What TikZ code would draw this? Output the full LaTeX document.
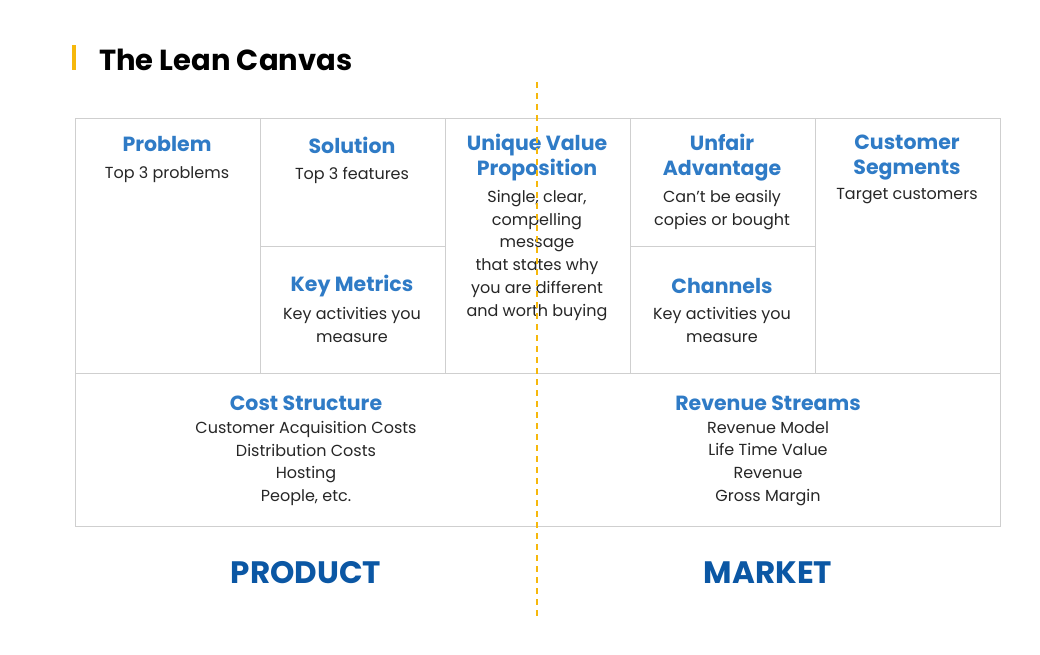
\documentclass[tikz,border=0pt]{standalone}
\usepackage{fontspec}
\setmainfont{Poppins}
\definecolor{hblue}{HTML}{2F7BC6}
\definecolor{dblue}{HTML}{0B57A4}
\definecolor{gold}{HTML}{F6B80C}
\definecolor{gridc}{HTML}{CFCFCF}
\begin{document}
\begin{tikzpicture}[x=1pt,y=-1pt,
  head/.style={text=hblue,font=\fontsize{20.5}{25}\selectfont\bfseries,align=center,inner sep=0},
  body/.style={text=black!85,font=\fontsize{16}{22.8}\selectfont,align=center,inner sep=0},
  big/.style={text=dblue,font=\fontsize{31}{34}\selectfont\bfseries,inner sep=0},
  cell/.style={draw=gridc,line width=1pt}]
\useasboundingbox (0,0) rectangle (1040,655);
\fill[gold] (72,45) rectangle (76,70);
\node[anchor=west,font=\fontsize{29}{32}\selectfont\bfseries,inner sep=0] (title) at (99,60) {The Lean Canvas};
% grid
\draw[cell] (75,119) rectangle (1000,526);
\draw[cell] (75,373) -- (1000,373);
\foreach \x in {260,445,630,815} \draw[cell] (\x,119) -- (\x,373);
\draw[cell] (260,246) -- (445,246);
\draw[cell] (630,246) -- (815,246);
% texts
\node[head] (p) at (167,144) {Problem};
\node[body] (pb) at (167,175) {Top 3 problems};
\node[head] (s) at (352,145) {Solution};
\node[body] (sb) at (352,175) {Top 3 features};
\node[head] (u) at (537,158) {Unique Value\\Proposition};
\node[body,anchor=north] (ub) at (537,190) {Single, clear,\\compelling\\message\\that states why\\you are different\\and worth buying};
\node[head] (ua) at (722,158) {Unfair\\Advantage};
\node[body,anchor=north] (uab) at (722,190) {Can’t be easily\\copies or bought};
\node[head] (cs) at (907,158) {Customer\\Segments};
\node[body] (csb) at (907,196) {Target customers};
\node[head] (km) at (352,286) {Key Metrics};
\node[body,anchor=north] (kmb) at (352,307) {Key activities you\\measure};
\node[head] (ch) at (722,286) {Channels};
\node[body,anchor=north] (chb) at (722,307) {Key activities you\\measure};
\node[head] (cost) at (306,403) {Cost Structure};
\node[body,anchor=north] (costb) at (306,421) {Customer Acquisition Costs\\Distribution Costs\\Hosting\\People, etc.};
\node[head] (rev) at (768,403) {Revenue Streams};
\node[body,anchor=north] (revb) at (768,421) {Revenue Model\\Life Time Value\\Revenue\\Gross Margin};
\node[big] (prod) at (306,573) {PRODUCT};
\node[big] (mkt) at (768,573) {MARKET};
\coordinate (t) at (537,82); \coordinate (b) at (537,617);
\draw[gold,line width=2pt,dash pattern=on 6pt off 5pt] (t) -- (b);
\end{tikzpicture}
\end{document}
